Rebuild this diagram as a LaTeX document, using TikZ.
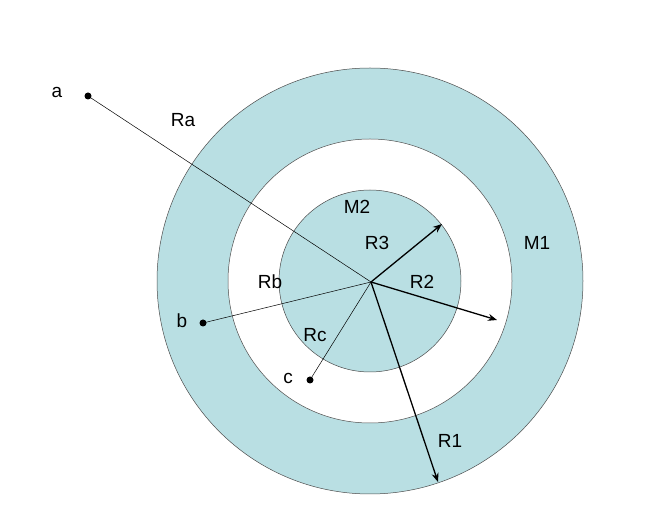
\documentclass[tikz,border=0pt]{standalone}
\usepackage{fontspec}
\setmainfont{Liberation Sans}
\usetikzlibrary{arrows.meta}
\definecolor{ring}{HTML}{B9DFE3}
\begin{document}
\begin{tikzpicture}[x=1pt,y=-1pt,
  lbl/.style={font=\fontsize{19}{22}\selectfont,inner sep=0pt},
  dot/.style={circle,fill=black,inner sep=0pt,minimum size=7pt},
  thin line/.style={draw=black,line width=0.5pt},
  arr/.style={draw=black,line width=1.3pt,-{Stealth[length=9pt,width=7pt]}}]
\useasboundingbox (0,0) rectangle (646,526);
\fill[ring,draw=black!70,line width=0.5pt] (370,281) circle (213);
\fill[white,draw=black!70,line width=0.5pt] (370,281) circle (142);
\fill[ring,draw=black!70,line width=0.5pt] (370,281) circle (91);
\coordinate (o) at (371,282);
\node[dot] (a) at (88,96) {};
\node[dot] (b) at (203,323) {};
\node[dot] (c) at (310,380) {};
\coordinate (r3) at (442,224);
\coordinate (r2) at (497,320);
\coordinate (r1) at (438,482);
\draw[thin line] (o) -- (a.center);
\draw[thin line] (o) -- (b.center);
\draw[thin line] (o) -- (c.center);
\draw[arr] (o) -- (r3);
\draw[arr] (o) -- (r2);
\draw[arr] (o) -- (r1);
\node[lbl] (la) at (57,92) {a};
\node[lbl] (lRa) at (183,120) {Ra};
\node[lbl] (lM2) at (357,207) {M2};
\node[lbl] (lR3) at (377,243) {R3};
\node[lbl] (lM1) at (537,243) {M1};
\node[lbl] (lRb) at (270,282) {Rb};
\node[lbl] (lR2) at (422,282) {R2};
\node[lbl] (lb) at (182,321) {b};
\node[lbl] (lRc) at (315,335) {Rc};
\node[lbl] (lc) at (288,378) {c};
\node[lbl] (lR1) at (450,441) {R1};
\end{tikzpicture}
\end{document}
